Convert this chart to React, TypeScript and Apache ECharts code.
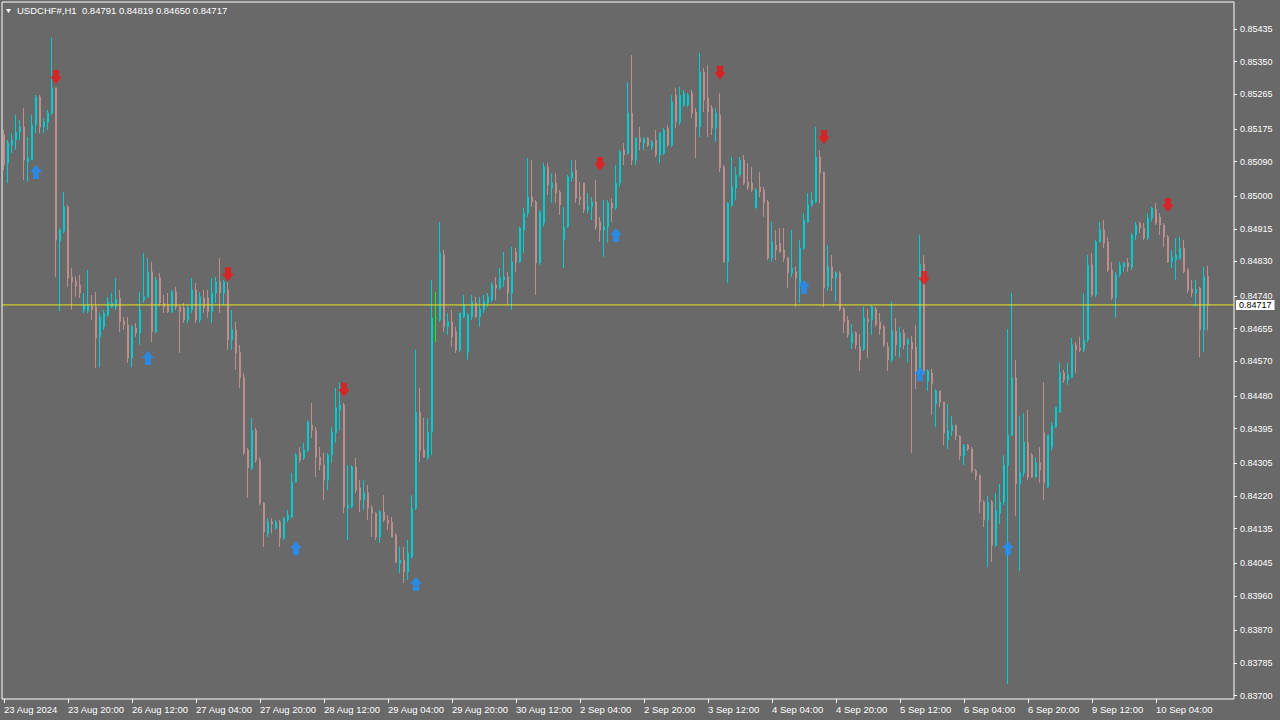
import React, { useEffect, useRef } from 'react';
import * as echarts from 'echarts';

const symbolName = 'USDCHF#,H1';

const xTickLabels = ['23 Aug 2024', '23 Aug 20:00', '26 Aug 12:00', '27 Aug 04:00', '27 Aug 20:00', '28 Aug 12:00', '29 Aug 04:00', '29 Aug 20:00', '30 Aug 12:00', '2 Sep 04:00', '2 Sep 20:00', '3 Sep 12:00', '4 Sep 04:00', '4 Sep 20:00', '5 Sep 12:00', '6 Sep 04:00', '6 Sep 20:00', '9 Sep 12:00', '10 Sep 04:00'];

const yTickLabels = ['0.85435', '0.85350', '0.85265', '0.85175', '0.85090', '0.85000', '0.84915', '0.84830', '0.84740', '0.84655', '0.84570', '0.84480', '0.84395', '0.84305', '0.84220', '0.84135', '0.84045', '0.83960', '0.83870', '0.83785', '0.83700'];

const opens = [
  0.85159, 0.85086, 0.85133, 0.85146, 0.85167, 0.85180, 0.85089, 0.85094, 0.85185, 0.85258,
  0.85180, 0.85193, 0.85216, 0.85282, 0.84883, 0.84909, 0.84972, 0.84790, 0.84779, 0.84769,
  0.84704, 0.84701, 0.84714, 0.84712, 0.84634, 0.84660, 0.84691, 0.84712, 0.84712, 0.84735,
  0.84675, 0.84665, 0.84579, 0.84657, 0.84644, 0.84730, 0.84738, 0.84803, 0.84647, 0.84787,
  0.84722, 0.84717, 0.84699, 0.84751, 0.84712, 0.84709, 0.84678, 0.84704, 0.84756, 0.84678,
  0.84735, 0.84735, 0.84699, 0.84748, 0.84777, 0.84748, 0.84756, 0.84626, 0.84652, 0.84594,
  0.84529, 0.84339, 0.84293, 0.84391, 0.84313, 0.84201, 0.84123, 0.84152, 0.84136, 0.84152,
  0.84110, 0.84157, 0.84165, 0.84256, 0.84332, 0.84319, 0.84339, 0.84404, 0.84391, 0.84321,
  0.84300, 0.84261, 0.84326, 0.84384, 0.84444, 0.84457, 0.84188, 0.84191, 0.84295, 0.84241,
  0.84209, 0.84228, 0.84188, 0.84175, 0.84113, 0.84178, 0.84157, 0.84152, 0.84118, 0.84045,
  0.84053, 0.84022, 0.84061, 0.84188, 0.84438, 0.84339, 0.84319, 0.84386, 0.84683, 0.84678,
  0.84847, 0.84660, 0.84673, 0.84647, 0.84600, 0.84686, 0.84594, 0.84686, 0.84722, 0.84686,
  0.84704, 0.84722, 0.84730, 0.84769, 0.84761, 0.84782, 0.84790, 0.84748, 0.84855, 0.84829,
  0.84912, 0.84956, 0.84998, 0.84985, 0.84826, 0.84930, 0.85076, 0.85021, 0.85034, 0.85011,
  0.84886, 0.84920, 0.85047, 0.85068, 0.84998, 0.85034, 0.84964, 0.84972, 0.84985, 0.84933,
  0.84912, 0.84920, 0.84982, 0.84969, 0.85034, 0.85120, 0.85112, 0.85216, 0.85094, 0.85151,
  0.85138, 0.85151, 0.85128, 0.85146, 0.85107, 0.85112, 0.85177, 0.85133, 0.85263, 0.85193,
  0.85237, 0.85237, 0.85268, 0.85219, 0.85180, 0.85323, 0.85256, 0.85229, 0.85177, 0.85211,
  0.85076, 0.84829, 0.84977, 0.85021, 0.85055, 0.85094, 0.85037, 0.85034, 0.84969, 0.85024,
  0.85016, 0.84985, 0.84839, 0.84873, 0.84878, 0.84860, 0.84839, 0.84800, 0.84803, 0.84774,
  0.84865, 0.84933, 0.84977, 0.84985, 0.85102, 0.85063, 0.84764, 0.84816, 0.84787, 0.84800,
  0.84706, 0.84678, 0.84618, 0.84644, 0.84607, 0.84602, 0.84680, 0.84678, 0.84706, 0.84673,
  0.84660, 0.84607, 0.84574, 0.84649, 0.84607, 0.84644, 0.84615, 0.84620, 0.84607, 0.84545,
  0.84823, 0.84519, 0.84540, 0.84459, 0.84493, 0.84464, 0.84365, 0.84389, 0.84404, 0.84376,
  0.84324, 0.84352, 0.84342, 0.84285, 0.84274, 0.84204, 0.84157, 0.84204, 0.84092, 0.84175,
  0.84204, 0.84300, 0.84378, 0.84527, 0.84251, 0.84280, 0.84358, 0.84326, 0.84269, 0.84306,
  0.84384, 0.84243, 0.84347, 0.84399, 0.84438, 0.84540, 0.84522, 0.84529, 0.84613, 0.84605,
  0.84600, 0.84626, 0.84821, 0.84743, 0.84881, 0.84912, 0.84881, 0.84808, 0.84735, 0.84795,
  0.84816, 0.84826, 0.84816, 0.84899, 0.84930, 0.84917, 0.84891, 0.84943, 0.84964, 0.84946,
  0.84925, 0.84894, 0.84829, 0.84834, 0.84839, 0.84865, 0.84808, 0.84758, 0.84748, 0.84761,
  0.84652, 0.84791,
];

const highs = [
  0.85172, 0.85146, 0.85164, 0.85211, 0.85198, 0.85229, 0.85154, 0.85211, 0.85263, 0.85263,
  0.85203, 0.85224, 0.85412, 0.85282, 0.84917, 0.85011, 0.84977, 0.84813, 0.84790, 0.84795,
  0.84748, 0.84808, 0.84743, 0.84751, 0.84696, 0.84704, 0.84738, 0.84748, 0.84787, 0.84756,
  0.84686, 0.84686, 0.84665, 0.84670, 0.84751, 0.84852, 0.84839, 0.84829, 0.84790, 0.84800,
  0.84743, 0.84748, 0.84756, 0.84764, 0.84717, 0.84722, 0.84717, 0.84787, 0.84774, 0.84751,
  0.84756, 0.84756, 0.84787, 0.84790, 0.84839, 0.84782, 0.84777, 0.84704, 0.84673, 0.84613,
  0.84540, 0.84345, 0.84423, 0.84397, 0.84321, 0.84204, 0.84162, 0.84162, 0.84157, 0.84157,
  0.84165, 0.84183, 0.84280, 0.84332, 0.84347, 0.84358, 0.84417, 0.84462, 0.84399, 0.84347,
  0.84332, 0.84332, 0.84399, 0.84501, 0.84516, 0.84462, 0.84300, 0.84300, 0.84319, 0.84261,
  0.84261, 0.84248, 0.84196, 0.84178, 0.84183, 0.84222, 0.84170, 0.84165, 0.84123, 0.84087,
  0.84087, 0.84105, 0.84222, 0.84600, 0.84501, 0.84423, 0.84423, 0.84782, 0.84751, 0.84933,
  0.84860, 0.84696, 0.84704, 0.84660, 0.84696, 0.84743, 0.84696, 0.84743, 0.84738, 0.84738,
  0.84743, 0.84748, 0.84777, 0.84790, 0.84813, 0.84855, 0.84803, 0.84868, 0.84865, 0.84920,
  0.84969, 0.85099, 0.85094, 0.84990, 0.84964, 0.85086, 0.85086, 0.85060, 0.85060, 0.85016,
  0.84972, 0.85055, 0.85094, 0.85094, 0.85037, 0.85034, 0.85008, 0.84998, 0.85042, 0.84946,
  0.84990, 0.84990, 0.84995, 0.85081, 0.85120, 0.85138, 0.85297, 0.85367, 0.85154, 0.85180,
  0.85154, 0.85154, 0.85146, 0.85172, 0.85167, 0.85177, 0.85185, 0.85263, 0.85282, 0.85284,
  0.85276, 0.85268, 0.85276, 0.85229, 0.85373, 0.85334, 0.85341, 0.85237, 0.85229, 0.85268,
  0.85081, 0.84985, 0.85102, 0.85076, 0.85102, 0.85107, 0.85086, 0.85076, 0.85021, 0.85063,
  0.85024, 0.84990, 0.84933, 0.84912, 0.84917, 0.84917, 0.84842, 0.84912, 0.84816, 0.84886,
  0.84956, 0.85008, 0.85011, 0.85180, 0.85120, 0.85063, 0.84873, 0.84847, 0.84805, 0.84805,
  0.84712, 0.84688, 0.84667, 0.84649, 0.84641, 0.84712, 0.84706, 0.84717, 0.84712, 0.84696,
  0.84665, 0.84620, 0.84725, 0.84683, 0.84660, 0.84654, 0.84631, 0.84636, 0.84665, 0.84899,
  0.84847, 0.84550, 0.84550, 0.84498, 0.84493, 0.84464, 0.84459, 0.84428, 0.84404, 0.84378,
  0.84355, 0.84355, 0.84347, 0.84290, 0.84274, 0.84209, 0.84220, 0.84209, 0.84228, 0.84251,
  0.84326, 0.84654, 0.84748, 0.84574, 0.84428, 0.84436, 0.84444, 0.84332, 0.84321, 0.84347,
  0.84516, 0.84378, 0.84412, 0.84451, 0.84568, 0.84548, 0.84566, 0.84631, 0.84620, 0.84634,
  0.84748, 0.84847, 0.84852, 0.84886, 0.84933, 0.84938, 0.84894, 0.84829, 0.84803, 0.84829,
  0.84829, 0.84839, 0.84904, 0.84933, 0.84933, 0.84930, 0.84956, 0.84972, 0.84982, 0.84956,
  0.84930, 0.84899, 0.84860, 0.84891, 0.84894, 0.84886, 0.84813, 0.84782, 0.84782, 0.84764,
  0.84816, 0.84819,
];

const lows = [
  0.85068, 0.85034, 0.85112, 0.85120, 0.85146, 0.85042, 0.85037, 0.85094, 0.85164, 0.85164,
  0.85164, 0.85172, 0.85211, 0.84790, 0.84701, 0.84904, 0.84764, 0.84704, 0.84738, 0.84735,
  0.84696, 0.84696, 0.84678, 0.84553, 0.84555, 0.84652, 0.84686, 0.84709, 0.84704, 0.84647,
  0.84652, 0.84566, 0.84555, 0.84634, 0.84613, 0.84722, 0.84735, 0.84620, 0.84644, 0.84712,
  0.84696, 0.84696, 0.84696, 0.84704, 0.84592, 0.84670, 0.84670, 0.84696, 0.84670, 0.84670,
  0.84696, 0.84683, 0.84670, 0.84722, 0.84696, 0.84717, 0.84600, 0.84600, 0.84548, 0.84501,
  0.84326, 0.84215, 0.84287, 0.84306, 0.84196, 0.84087, 0.84113, 0.84123, 0.84131, 0.84087,
  0.84105, 0.84152, 0.84162, 0.84254, 0.84306, 0.84313, 0.84334, 0.84371, 0.84269, 0.84287,
  0.84209, 0.84235, 0.84306, 0.84358, 0.84391, 0.84175, 0.84105, 0.84188, 0.84228, 0.84178,
  0.84183, 0.84157, 0.84113, 0.84105, 0.84097, 0.84152, 0.84131, 0.84113, 0.84045, 0.84019,
  0.83993, 0.84001, 0.84058, 0.84183, 0.84308, 0.84319, 0.84313, 0.84326, 0.84620, 0.84673,
  0.84647, 0.84639, 0.84607, 0.84592, 0.84594, 0.84683, 0.84574, 0.84678, 0.84683, 0.84660,
  0.84696, 0.84712, 0.84725, 0.84730, 0.84756, 0.84764, 0.84717, 0.84704, 0.84803, 0.84826,
  0.84852, 0.84946, 0.84972, 0.84743, 0.84821, 0.84920, 0.85003, 0.84982, 0.84982, 0.84951,
  0.84813, 0.84917, 0.85037, 0.84982, 0.84977, 0.84956, 0.84956, 0.84938, 0.84912, 0.84881,
  0.84842, 0.84878, 0.84933, 0.84964, 0.85024, 0.85081, 0.85107, 0.85081, 0.85081, 0.85120,
  0.85120, 0.85128, 0.85120, 0.85102, 0.85086, 0.85107, 0.85128, 0.85128, 0.85177, 0.85185,
  0.85232, 0.85232, 0.85203, 0.85099, 0.85154, 0.85219, 0.85154, 0.85159, 0.85141, 0.85063,
  0.84826, 0.84774, 0.84972, 0.84990, 0.85050, 0.85029, 0.85016, 0.85011, 0.84969, 0.84998,
  0.84946, 0.84834, 0.84829, 0.84834, 0.84852, 0.84829, 0.84761, 0.84790, 0.84712, 0.84722,
  0.84860, 0.84930, 0.84972, 0.84982, 0.84982, 0.84712, 0.84753, 0.84753, 0.84725, 0.84701,
  0.84644, 0.84631, 0.84602, 0.84602, 0.84545, 0.84597, 0.84579, 0.84639, 0.84660, 0.84639,
  0.84607, 0.84545, 0.84568, 0.84584, 0.84579, 0.84602, 0.84568, 0.84332, 0.84498, 0.84535,
  0.84535, 0.84493, 0.84431, 0.84399, 0.84451, 0.84352, 0.84342, 0.84376, 0.84365, 0.84313,
  0.84300, 0.84337, 0.84280, 0.84261, 0.84175, 0.84139, 0.84035, 0.84048, 0.84087, 0.84147,
  0.84196, 0.83730, 0.84376, 0.84168, 0.84025, 0.84269, 0.84261, 0.84267, 0.84267, 0.84254,
  0.84209, 0.84241, 0.84339, 0.84397, 0.84436, 0.84514, 0.84509, 0.84527, 0.84540, 0.84594,
  0.84594, 0.84620, 0.84738, 0.84738, 0.84878, 0.84865, 0.84803, 0.84730, 0.84683, 0.84790,
  0.84803, 0.84803, 0.84808, 0.84886, 0.84904, 0.84886, 0.84886, 0.84933, 0.84925, 0.84899,
  0.84868, 0.84826, 0.84813, 0.84782, 0.84834, 0.84800, 0.84748, 0.84738, 0.84712, 0.84581,
  0.84594, 0.84650,
];

const closes = [
  0.85081, 0.85138, 0.85146, 0.85167, 0.85180, 0.85094, 0.85099, 0.85185, 0.85258, 0.85180,
  0.85193, 0.85216, 0.85282, 0.84886, 0.84912, 0.84972, 0.84787, 0.84777, 0.84766, 0.84748,
  0.84717, 0.84717, 0.84704, 0.84631, 0.84686, 0.84696, 0.84725, 0.84722, 0.84732, 0.84673,
  0.84665, 0.84579, 0.84660, 0.84644, 0.84704, 0.84738, 0.84803, 0.84647, 0.84782, 0.84722,
  0.84712, 0.84699, 0.84751, 0.84712, 0.84699, 0.84678, 0.84709, 0.84756, 0.84678, 0.84738,
  0.84709, 0.84699, 0.84748, 0.84777, 0.84748, 0.84777, 0.84626, 0.84652, 0.84592, 0.84527,
  0.84332, 0.84293, 0.84391, 0.84313, 0.84201, 0.84126, 0.84152, 0.84147, 0.84152, 0.84110,
  0.84162, 0.84170, 0.84256, 0.84326, 0.84313, 0.84339, 0.84412, 0.84391, 0.84321, 0.84300,
  0.84261, 0.84326, 0.84386, 0.84449, 0.84457, 0.84191, 0.84196, 0.84295, 0.84235, 0.84209,
  0.84228, 0.84188, 0.84175, 0.84113, 0.84178, 0.84157, 0.84149, 0.84113, 0.84048, 0.84053,
  0.84022, 0.84071, 0.84188, 0.84438, 0.84339, 0.84321, 0.84386, 0.84683, 0.84683, 0.84852,
  0.84660, 0.84673, 0.84634, 0.84600, 0.84696, 0.84717, 0.84691, 0.84725, 0.84686, 0.84706,
  0.84725, 0.84738, 0.84769, 0.84761, 0.84787, 0.84790, 0.84748, 0.84829, 0.84829, 0.84917,
  0.84956, 0.84998, 0.84985, 0.84826, 0.84959, 0.85076, 0.85029, 0.85034, 0.85008, 0.84977,
  0.84920, 0.85050, 0.85063, 0.84995, 0.84990, 0.84964, 0.84972, 0.84985, 0.84920, 0.84912,
  0.84920, 0.84982, 0.84969, 0.85034, 0.85115, 0.85107, 0.85216, 0.85094, 0.85151, 0.85141,
  0.85151, 0.85133, 0.85141, 0.85107, 0.85164, 0.85172, 0.85133, 0.85245, 0.85193, 0.85263,
  0.85268, 0.85263, 0.85216, 0.85180, 0.85323, 0.85250, 0.85219, 0.85177, 0.85216, 0.85073,
  0.84829, 0.84982, 0.85024, 0.85055, 0.85094, 0.85034, 0.85024, 0.85016, 0.85016, 0.85011,
  0.84982, 0.84839, 0.84881, 0.84860, 0.84855, 0.84839, 0.84800, 0.84813, 0.84787, 0.84865,
  0.84938, 0.84977, 0.84990, 0.85102, 0.85060, 0.84761, 0.84816, 0.84787, 0.84800, 0.84706,
  0.84673, 0.84639, 0.84644, 0.84613, 0.84574, 0.84683, 0.84673, 0.84712, 0.84667, 0.84654,
  0.84613, 0.84574, 0.84649, 0.84613, 0.84644, 0.84613, 0.84626, 0.84602, 0.84545, 0.84823,
  0.84545, 0.84545, 0.84511, 0.84493, 0.84464, 0.84384, 0.84389, 0.84404, 0.84376, 0.84324,
  0.84352, 0.84342, 0.84285, 0.84272, 0.84204, 0.84157, 0.84204, 0.84092, 0.84181, 0.84204,
  0.84300, 0.84378, 0.84527, 0.84251, 0.84280, 0.84360, 0.84269, 0.84269, 0.84306, 0.84287,
  0.84254, 0.84378, 0.84404, 0.84451, 0.84540, 0.84522, 0.84535, 0.84613, 0.84600, 0.84600,
  0.84626, 0.84821, 0.84743, 0.84881, 0.84912, 0.84878, 0.84808, 0.84735, 0.84795, 0.84821,
  0.84826, 0.84816, 0.84899, 0.84925, 0.84917, 0.84891, 0.84943, 0.84969, 0.84930, 0.84925,
  0.84894, 0.84829, 0.84842, 0.84847, 0.84865, 0.84803, 0.84756, 0.84748, 0.84758, 0.84652,
  0.84790, 0.84717,
];

// indicator signals: [bar index, price]
const sellSignals = [[13, 0.85310], [56, 0.84797], [85, 0.84496], [149, 0.85084], [179, 0.85321], [205, 0.85154], [230, 0.84787], [291, 0.84977]];
const buySignals = [[8, 0.85063], [36, 0.84579], [73, 0.84084], [103, 0.83991], [153, 0.84899], [200, 0.84764], [229, 0.84537], [251, 0.84084]];

const barsPerLabel = 16;
const emptySlots = 6;
const priceAxisMin = 0.836914;
const priceAxisMax = 0.855053;

const FONT = '"Liberation Sans", Arial, sans-serif';
const BG = '#696969';
const UP = '#00CED1';
const DOWN = '#BC8F8F';
const BID_LINE = '#e6e619';

export default function App() {
  const ref = useRef<HTMLDivElement>(null);
  useEffect(() => {
    const chart = echarts.init(ref.current as HTMLDivElement, null, { renderer: 'svg' });
    const n = opens.length;
    const last = n - 1;
    const bid = closes[last];
    const categories = Array.from({ length: n + emptySlots }, (_, i) => String(i));
    const candles = opens.map((o, i) => [o, closes[i], lows[i], highs[i]]);
    const showAt = (i: number) => i % barsPerLabel === 0 && i < n;
    const yTickValues = yTickLabels.map(Number);
    const title = `${symbolName}  ${opens[last].toFixed(5)} ${highs[last].toFixed(5)} ${lows[last].toFixed(5)} ${closes[last].toFixed(5)}`;

    chart.setOption({
      animation: false,
      backgroundColor: BG,
      title: {
        text: title,
        left: 17,
        top: 5,
        padding: 0,
        textStyle: { color: '#ffffff', fontSize: 9.5, fontWeight: 'normal', fontFamily: FONT },
      },
      graphic: [
        {
          type: 'polygon',
          shape: { points: [[6, 9], [11, 9], [8.5, 13]] },
          style: { fill: '#ffffff' },
        },
      ],
      grid: {
        left: 2,
        right: 46,
        top: 2,
        bottom: 21,
        show: true,
        borderColor: '#ffffff',
        borderWidth: 1,
        backgroundColor: 'transparent',
        containLabel: false,
        outerBoundsMode: 'none',
      },
      xAxis: [
        {
          type: 'category',
          data: categories,
          boundaryGap: true,
          axisLine: { show: false, onZero: false },
          splitLine: { show: false },
          axisTick: {
            show: true,
            alignWithLabel: true,
            interval: (i: number) => showAt(i),
            length: 4,
            lineStyle: { color: '#ffffff', width: 1 },
          },
          axisLabel: {
            interval: (i: number) => showAt(i),
            formatter: (v: string) => xTickLabels[Number(v) / barsPerLabel] ?? '',
            align: 'left',
            color: '#ffffff',
            fontSize: 9.5,
            fontFamily: FONT,
            margin: 5,
          },
        },
        {
          type: 'value',
          min: 0,
          max: 1,
          show: false,
          axisLine: { show: false, onZero: false },
        },
      ],
      yAxis: {
        type: 'value',
        position: 'right',
        min: priceAxisMin,
        max: priceAxisMax,
        scale: true,
        axisLine: { show: false, onZero: false },
        splitLine: { show: false },
        axisTick: {
          show: true,
          customValues: yTickValues,
          length: 3,
          lineStyle: { color: '#ffffff', width: 1 },
        },
        axisLabel: {
          customValues: yTickValues,
          formatter: (v: number) => v.toFixed(5),
          color: '#ffffff',
          fontSize: 9,
          fontFamily: FONT,
          margin: 6,
        },
      },
      series: [
        {
          type: 'candlestick',
          data: candles,
          barWidth: 2,
          itemStyle: {
            color: UP,
            color0: DOWN,
            borderColor: UP,
            borderColor0: DOWN,
            borderColorDoji: '#00FF00',
            borderWidth: 1,
          },
          emphasis: { disabled: true },
          z: 2,
        },
        {
          type: 'line',
          xAxisIndex: 1,
          data: [[0, bid], [1, bid]],
          symbol: 'none',
          silent: true,
          clip: false,
          z: 4,
          lineStyle: { color: BID_LINE, width: 1, type: 'solid' },
          itemStyle: { color: BID_LINE },
          endLabel: {
            show: true,
            distance: 2,
            formatter: bid.toFixed(5),
            backgroundColor: '#ffffff',
            color: '#000000',
            padding: [1, 3, 0, 3],
            fontSize: 9,
            fontFamily: FONT,
          },
          emphasis: { disabled: true },
        },
        {
          type: 'scatter',
          data: sellSignals,
          symbol: 'path://M3,0 L9,0 L9,6 L12,6 L6,13 L0,6 L3,6 Z',
          symbolSize: [12, 14],
          itemStyle: { color: '#f01414' },
          silent: true,
          z: 5,
        },
        {
          type: 'scatter',
          data: buySignals,
          symbol: 'path://M6,0 L12,7 L9,7 L9,14 L3,14 L3,7 L0,7 Z',
          symbolSize: [12, 14],
          itemStyle: { color: '#1e90ff' },
          silent: true,
          z: 5,
        },
      ],
    });
    return () => chart.dispose();
  }, []);
  return (
    <div
      ref={ref}
      style={{ position: 'fixed', left: 0, top: 0, width: 1280, height: 720, background: BG }}
    />
  );
}
